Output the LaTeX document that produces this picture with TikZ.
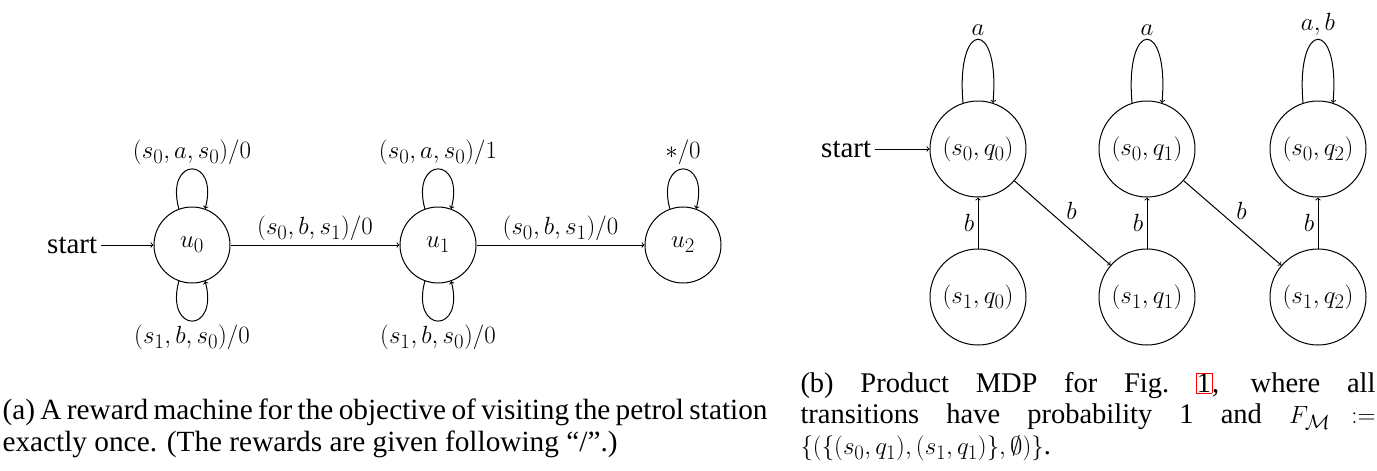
\documentclass[tikz,border=0pt]{standalone}
\usepackage{fontspec}
\setmainfont{Liberation Serif}
\usepackage{amssymb}
\begin{document}
\begin{tikzpicture}[x=1pt,y=-1pt,line width=1pt,
  st/.style={circle,draw,minimum size=76pt,inner sep=0pt,font=\fontsize{32}{36}\selectfont},
  pst/.style={circle,draw,minimum size=96pt,inner sep=0pt,font=\fontsize{32}{36}\selectfont},
  lab/.style={font=\fontsize{32}{36}\selectfont},
  >=to]
\useasboundingbox (0,0) rectangle (1377,471);
% (a)
\node[st] (u0) at (192,245) {$u_0$};
\node[st] (u1) at (438,245) {$u_1$};
\node[st] (u2) at (683,245) {$u_2$};
\node[lab,anchor=east,font=\fontsize{29}{33}\selectfont] (sa) at (101,245) {start};
\draw[->] (sa) -- (u0);
\draw[->] (u0) -- node[lab,above]{$(s_0,b,s_1)/0$} (u1);
\draw[->] (u1) -- node[lab,above]{$(s_0,b,s_1)/0$} (u2);
\draw[->] (u0.110) .. controls +(-105:55) and +(-75:55) .. node[lab,above]{$(s_0,a,s_0)/0$} (u0.70);
\draw[->] (u0.250) .. controls +(105:55) and +(75:55) .. node[lab,below]{$(s_1,b,s_0)/0$} (u0.290);
\draw[->] (u1.110) .. controls +(-105:55) and +(-75:55) .. node[lab,above]{$(s_0,a,s_0)/1$} (u1.70);
\draw[->] (u1.250) .. controls +(105:55) and +(75:55) .. node[lab,below]{$(s_1,b,s_0)/0$} (u1.290);
\draw[->] (u2.110) .. controls +(-105:55) and +(-75:55) .. node[lab,above]{$*/0$} (u2.70);
\node[anchor=north west,inner sep=0pt,text width=765pt,align=justify,font=\fontsize{29.3}{32}\selectfont] (capa) at (2,398)
 {(a) A reward machine for the objective of visiting the petrol station exactly once. (The rewards are given following ``/''.)};
% (b)
\node[pst] (a0) at (978,149) {$(s_0,q_0)$};
\node[pst] (a1) at (1147,149) {$(s_0,q_1)$};
\node[pst] (a2) at (1318,149) {$(s_0,q_2)$};
\node[pst] (b0) at (978,297) {$(s_1,q_0)$};
\node[pst] (b1) at (1147,297) {$(s_1,q_1)$};
\node[pst] (b2) at (1318,297) {$(s_1,q_2)$};
\node[lab,anchor=east,font=\fontsize{29}{33}\selectfont] (sb) at (875,149) {start};
\draw[->] (a0.108) .. controls +(-95:85) and +(-85:85) .. node[lab,above]{$a$} (a0.72);
\draw[->] (a1.108) .. controls +(-95:85) and +(-85:85) .. node[lab,above]{$a$} (a1.72);
\draw[->] (a2.108) .. controls +(-95:85) and +(-85:85) .. node[lab,above]{$a,b$} (a2.72);
\draw[->] (sb) -- (a0);
\draw[->] (b0) -- node[lab,left]{$b$} (a0);
\draw[->] (b1) -- node[lab,left]{$b$} (a1);
\draw[->] (b2) -- node[lab,left]{$b$} (a2);
\draw[->] (a0) -- node[lab,above right]{$b$} (b1);
\draw[->] (a1) -- node[lab,above right]{$b$} (b2);
\node[anchor=north west,inner sep=0pt,text width=575pt,align=justify,font=\fontsize{28.5}{31}\selectfont] (capb) at (800,372)
 {(b) Product MDP for Fig.~{\setlength{\fboxsep}{0.5pt}\color{red}\fbox{\color{black}1}}, where all transitions have probability 1 and \mbox{$F_{\mathcal M}\ \ :=$} $\{(\{(s_0,q_1),(s_1,q_1)\},\emptyset)\}$.};
\end{tikzpicture}
\end{document}
